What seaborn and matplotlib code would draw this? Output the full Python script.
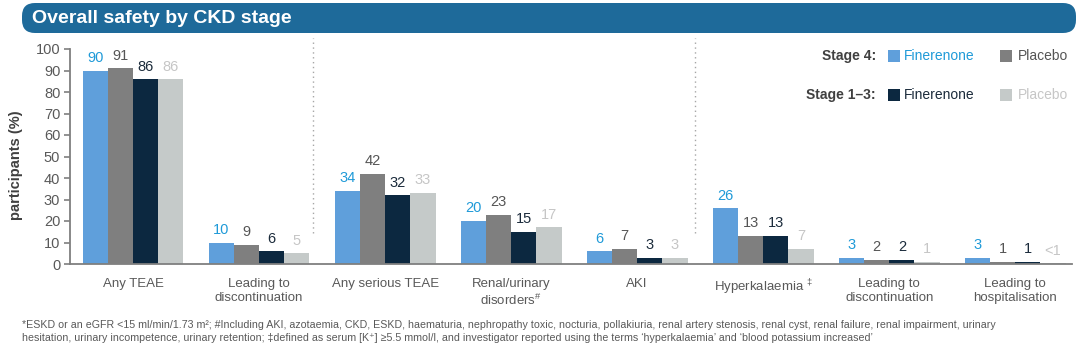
import matplotlib
matplotlib.use("Agg")
import matplotlib.pyplot as plt
from matplotlib.patches import FancyBboxPatch, Rectangle
import seaborn as sns
import pandas as pd

# ---- data -------------------------------------------------------------
category_keys = ["any_teae", "any_disc", "serious", "renal", "aki",
                 "hyperk", "hyperk_disc", "hyperk_hosp"]
category_labels = ["Any TEAE", "Leading to\ndiscontinuation", "Any serious TEAE",
                   "Renal/urinary\ndisorders$^{\\#}$", "AKI", "Hyperkalaemia $^{‡}$",
                   "Leading to\ndiscontinuation", "Leading to\nhospitalisation"]
series = ["Stage 4: Finerenone", "Stage 4: Placebo",
          "Stage 1–3: Finerenone", "Stage 1–3: Placebo"]
stage4_finerenone = [90, 10, 34, 20, 6, 26, 3, 3]
stage4_placebo = [91, 9, 42, 23, 7, 13, 2, 1]
stage13_finerenone = [86, 6, 32, 15, 3, 13, 2, 1]
stage13_placebo = [86, 5, 33, 17, 3, 7, 1, 0.4]   # last value reported as "<1"

bar_colors = ["#5f9fdb", "#7f7f7f", "#0c2840", "#c5cac9"]
label_colors = ["#1f9ad8", "#555555", "#1b2b3b", "#c6c6c6"]

footnote_1 = ("*ESKD or an eGFR <15 ml/min/1.73 m²; #Including AKI, azotaemia, CKD, ESKD, haematuria, "
              "nephropathy toxic, nocturia, pollakiuria, renal artery stenosis, renal cyst, renal failure, "
              "renal impairment, urinary")
footnote_2 = ("hesitation, urinary incompetence, urinary retention; ‡defined as serum [K⁺] ≥5.5 mmol/l, "
              "and investigator reported using the terms ‘hyperkalaemia’ and ‘blood potassium increased’")

# ---- long-form table ---------------------------------------------------
values = [stage4_finerenone, stage4_placebo, stage13_finerenone, stage13_placebo]
rows = []
for s, vals in zip(series, values):
    for k, v in zip(category_keys, vals):
        rows.append({"category": k, "series": s, "value": v})
df = pd.DataFrame(rows)

# ---- style -------------------------------------------------------------
sns.set_theme(style="white")
plt.rcParams["font.family"] = ["Liberation Sans", "DejaVu Sans"]
plt.rcParams["mathtext.fontset"] = "custom"
plt.rcParams["mathtext.rm"] = "Liberation Sans"
plt.rcParams["mathtext.it"] = "Liberation Sans:italic"
plt.rcParams["mathtext.bf"] = "Liberation Sans:bold"

W, H = 1080, 347
fig = plt.figure(figsize=(W / 100, H / 100), dpi=100)
fig.patch.set_facecolor("white")

axis_color = "#7f7f7f"
text_color = "#595959"

ax = fig.add_axes([70 / W, (H - 264) / H, 1002 / W, 215 / H])
sns.barplot(data=df, x="category", y="value", hue="series", order=category_keys,
            hue_order=series, palette=bar_colors, width=0.8, gap=0,
            saturation=1, legend=False, linewidth=0, edgecolor="none", ax=ax)

for cont, vals, col in zip(ax.containers, values, label_colors):
    labels = [str(int(v)) if v >= 1 else "<1" for v in vals]
    ax.bar_label(cont, labels=labels, padding=4, color=col, fontsize=10.5)

ax.set_xlim(-0.5, 7.45)
ax.set_ylim(0, 100)
ax.set_yticks(range(0, 101, 10))
ax.set_xticks(range(len(category_keys)))
ax.set_xticklabels(category_labels, fontsize=9.5, color=text_color, linespacing=1.25)
ax.tick_params(axis="x", length=0, pad=10)
ax.tick_params(axis="y", length=4, width=1.2, color=axis_color, labelsize=10.5,
               labelcolor=text_color, pad=3, direction="out", left=True)
ax.set_xlabel("")
ax.set_ylabel("participants (%)", fontsize=10.5, fontweight="bold", color="#404040")
ax.yaxis.set_label_coords(-0.047, 0.46)
for side in ["top", "right"]:
    ax.spines[side].set_visible(False)
for side in ["left", "bottom"]:
    ax.spines[side].set_color(axis_color)
    ax.spines[side].set_linewidth(1.3)

# dotted separators between endpoint groups
for xpos in (1.43, 4.46):
    ax.axvline(xpos, ymin=0.144, ymax=1.05, clip_on=False, color="#a6a6a6",
               lw=1.0, ls=(0, (1, 2.5)))

# ---- decorations in pixel coordinates ---------------------------------
deco = fig.add_axes([0, 0, 1, 1], facecolor="none")
deco.set_xlim(0, W)
deco.set_ylim(H, 0)
deco.axis("off")

deco.add_patch(FancyBboxPatch((22, 3), 1054, 30,
                              boxstyle="round,pad=0,rounding_size=13",
                              facecolor="#1e6a9a", edgecolor="none"))
deco.text(32, 18.5, "Overall safety by CKD stage", color="white", fontsize=14,
          fontweight="bold", va="center", ha="left")

# legend
legend_rows = [(56, "Stage 4:", 0), (95, "Stage 1–3:", 2)]
for y, head, i0 in legend_rows:
    deco.text(876, y, head, ha="right", va="center", fontsize=10,
              fontweight="bold", color="#404040")
    for j, (xs, xt) in enumerate([(888, 904), (1000, 1018)]):
        i = i0 + j
        deco.add_patch(Rectangle((xs, y - 6), 12, 12, facecolor=bar_colors[i],
                                 edgecolor="none"))
        name = series[i].split(": ")[1]
        deco.text(xt, y, name, ha="left", va="center", fontsize=10,
                  color=label_colors[i] if i != 2 else "#1b2b3b")

deco.text(22, 325, footnote_1, ha="left", va="center", fontsize=7.65, color=text_color)
deco.text(22, 338, footnote_2, ha="left", va="center", fontsize=7.65, color=text_color)

fig.savefig("out.png", dpi=100)
